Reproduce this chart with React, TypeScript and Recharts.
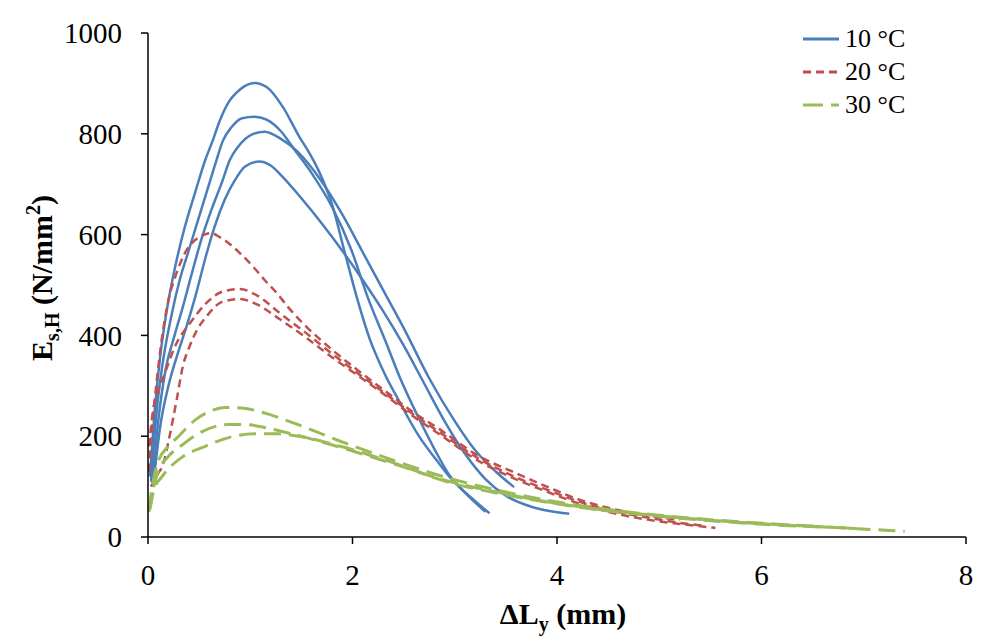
import { Line, LineChart, XAxis, YAxis } from "recharts";

const xTicks = [0, 2, 4, 6, 8];
const yTicks = [0, 200, 400, 600, 800, 1000];

// 10 °C specimens
const blue1: [number, number][] = [
  [0.02, 120], [0.07, 260], [0.12, 360], [0.18, 445], [0.27, 540], [0.36, 615], [0.46, 683],
  [0.56, 748], [0.63, 785], [0.7, 825], [0.78, 860], [0.9, 888], [1.04, 901], [1.16, 893],
  [1.32, 853], [1.48, 794], [1.56, 768], [1.68, 722], [1.8, 660], [1.92, 568], [2.05, 470],
  [2.17, 392], [2.3, 330], [2.46, 268], [2.65, 200], [2.85, 145], [2.95, 119], [3.15, 80], [3.34, 47],
];
const blue2: [number, number][] = [
  [0.03, 110], [0.08, 240], [0.14, 340], [0.23, 440], [0.31, 510], [0.39, 563], [0.49, 629],
  [0.59, 695], [0.67, 748], [0.73, 785], [0.82, 814], [0.92, 831], [1.04, 834], [1.16, 828],
  [1.3, 805], [1.42, 772], [1.6, 722], [1.8, 655], [1.99, 569], [2.15, 475], [2.33, 385],
  [2.46, 318], [2.65, 235], [2.8, 175], [2.95, 122], [3.1, 88], [3.3, 50],
];
const blue3: [number, number][] = [
  [0.04, 100], [0.1, 230], [0.17, 330], [0.26, 400], [0.34, 456], [0.43, 524], [0.52, 589],
  [0.62, 649], [0.72, 702], [0.8, 748], [0.88, 774], [1.01, 798], [1.14, 804], [1.3, 790],
  [1.46, 765], [1.7, 705], [1.9, 640], [2.1, 565], [2.3, 490], [2.5, 415], [2.75, 315],
  [3.0, 230], [3.2, 172], [3.4, 130], [3.58, 99],
];
const blue4: [number, number][] = [
  [0.05, 100], [0.12, 220], [0.2, 300], [0.3, 370], [0.38, 420], [0.46, 475], [0.57, 560],
  [0.65, 615], [0.75, 669], [0.85, 708], [0.95, 735], [1.09, 745], [1.2, 737], [1.3, 718],
  [1.5, 672], [1.7, 622], [1.9, 568], [2.1, 510], [2.3, 448], [2.5, 380], [2.7, 305],
  [2.9, 230], [3.1, 165], [3.3, 115], [3.5, 82], [3.75, 60], [4.0, 49], [4.12, 46],
];

// 20 °C specimens
const red1: [number, number][] = [
  [0.01, 130], [0.04, 220], [0.08, 300], [0.14, 400], [0.2, 470], [0.28, 524], [0.36, 563],
  [0.46, 589], [0.55, 600], [0.62, 603], [0.7, 595], [0.77, 586], [0.9, 563], [1.03, 536],
  [1.14, 510], [1.26, 484], [1.37, 456], [1.55, 417], [1.81, 370], [2.07, 328], [2.33, 288],
  [2.59, 248], [2.85, 214], [3.24, 160], [3.56, 130], [3.9, 100], [4.22, 74], [4.54, 56],
  [4.9, 42], [5.2, 34],
];
const red2: [number, number][] = [
  [0.01, 180], [0.05, 252], [0.1, 290], [0.15, 317], [0.28, 385], [0.41, 424], [0.57, 464],
  [0.73, 487], [0.9, 492], [1.06, 480], [1.29, 444], [1.55, 404], [1.81, 362], [2.07, 322],
  [2.33, 283], [2.59, 244], [2.85, 208], [3.24, 155], [3.56, 122], [3.9, 94], [4.22, 70],
  [4.54, 52], [4.9, 38], [5.2, 28], [5.45, 22],
];
const red3: [number, number][] = [
  [0.03, 100], [0.08, 120], [0.15, 146], [0.21, 199], [0.28, 272], [0.34, 338], [0.41, 380],
  [0.48, 411], [0.57, 437], [0.73, 467], [0.9, 472], [1.06, 462], [1.29, 432], [1.55, 395],
  [1.81, 355], [2.07, 318], [2.33, 280], [2.59, 240], [2.85, 204], [3.24, 150], [3.56, 118],
  [3.9, 90], [4.22, 66], [4.54, 48], [4.9, 34], [5.2, 26], [5.55, 18],
];

// 30 °C specimens
const green1: [number, number][] = [
  [0.01, 55], [0.05, 110], [0.1, 150], [0.2, 180], [0.3, 200], [0.46, 232], [0.59, 248],
  [0.75, 257], [0.92, 256], [1.14, 246], [1.4, 228], [1.88, 190], [2.36, 155], [2.85, 122],
  [3.44, 92], [3.93, 72], [4.41, 57], [4.9, 45], [5.39, 36], [5.88, 29], [6.2, 25], [6.6, 21],
];
const green2: [number, number][] = [
  [0.01, 50], [0.05, 95], [0.1, 130], [0.2, 160], [0.35, 185], [0.52, 208], [0.78, 223],
  [0.95, 223], [1.17, 216], [1.4, 205], [1.88, 178], [2.36, 148], [2.95, 110], [3.44, 88],
  [3.93, 69], [4.41, 55], [4.9, 44], [5.39, 35], [5.88, 28], [6.2, 24], [6.72, 19], [7.0, 16],
];
const green3: [number, number][] = [
  [0.02, 55], [0.06, 95], [0.13, 118], [0.33, 158], [0.56, 180], [0.82, 199], [1.04, 205],
  [1.27, 205], [1.44, 201], [1.88, 180], [2.36, 150], [2.95, 108], [3.44, 86], [3.93, 68],
  [4.41, 54], [4.9, 43], [5.39, 34], [5.88, 27], [6.2, 23], [6.72, 19], [6.98, 16], [7.25, 13],
  [7.4, 11],
];

const BLUE = "#4A7EBB";
const RED = "#C0504D";
const GREEN = "#9BBB59";
const FONT = '"Liberation Serif", "Times New Roman", serif';

const toPts = (arr: [number, number][]) => arr.map(([x, y]) => ({ x, y }));

const series = [
  { id: "b1", data: blue1, color: BLUE, dash: undefined, width: 2.5 },
  { id: "b2", data: blue2, color: BLUE, dash: undefined, width: 2.5 },
  { id: "b3", data: blue3, color: BLUE, dash: undefined, width: 2.5 },
  { id: "b4", data: blue4, color: BLUE, dash: undefined, width: 2.5 },
  { id: "r1", data: red1, color: RED, dash: "8 5", width: 2.5 },
  { id: "r2", data: red2, color: RED, dash: "8 5", width: 2.5 },
  { id: "r3", data: red3, color: RED, dash: "8 5", width: 2.5 },
  { id: "g1", data: green1, color: GREEN, dash: "17 8", width: 3 },
  { id: "g2", data: green2, color: GREEN, dash: "17 8", width: 3 },
  { id: "g3", data: green3, color: GREEN, dash: "17 8", width: 3 },
];

const legendItems = [
  { label: "10 °C", color: BLUE, dash: undefined },
  { label: "20 °C", color: RED, dash: "8 5" },
  { label: "30 °C", color: GREEN, dash: "20 8" },
];

function YTitle() {
  return (
    <text
      transform="translate(44,270) rotate(-90)"
      textAnchor="middle"
      fontFamily={FONT}
      fontWeight="bold"
      fontSize={30}
      fill="#000"
    >
      E
      <tspan dy={7} fontSize={20}>s,H</tspan>
      <tspan dy={-7}> (N/mm</tspan>
      <tspan dy={-12} fontSize={20}>2</tspan>
      <tspan dy={12}>)</tspan>
    </text>
  );
}

function XTitle() {
  return (
    <text x={555} y={616} textAnchor="middle" fontFamily={FONT} fontWeight="bold" fontSize={30} fill="#000">
      ΔL
      <tspan dy={7} fontSize={20}>y</tspan>
      <tspan dy={-7}> (mm)</tspan>
    </text>
  );
}

export default function App() {
  return (
    <div style={{ position: "relative", width: 983, height: 628 }}>
      <LineChart width={983} height={628} margin={{ top: 25, right: 25, left: 0, bottom: 0 }}>
        <XAxis
          dataKey="x"
          type="number"
          domain={[0, 8]}
          ticks={xTicks}
          allowDuplicatedCategory={false}
          height={99}
          stroke="#000"
          strokeWidth={1.5}
          tickSize={7}
          tickMargin={20}
          tick={{ fill: "#000", fontSize: 29, fontFamily: FONT }}
          label={<XTitle />}
        />
        <YAxis
          type="number"
          domain={[0, 1000]}
          ticks={yTicks}
          width={140}
          stroke="#000"
          strokeWidth={1.5}
          tickSize={7}
          tickMargin={19}
          tick={{ fill: "#000", fontSize: 29, fontFamily: FONT }}
          label={<YTitle />}
        />
        {series.map((s) => (
          <Line
            key={s.id}
            data={toPts(s.data)}
            dataKey="y"
            type="monotone"
            stroke={s.color}
            strokeWidth={s.width}
            strokeDasharray={s.dash}
            dot={false}
            activeDot={false}
            isAnimationActive={false}
          />
        ))}
      </LineChart>
      <div style={{ position: "absolute", left: 795, top: 14, fontFamily: FONT, fontSize: 26 }}>
        {legendItems.map((item) => (
          <div key={item.label} style={{ display: "flex", alignItems: "center", height: 33 }}>
            <svg width={38} height={10} style={{ marginRight: 4 }}>
              <line x1={0} y1={5} x2={36} y2={5} stroke={item.color} strokeWidth={3} strokeDasharray={item.dash} />
            </svg>
            <span>{item.label}</span>
          </div>
        ))}
      </div>
    </div>
  );
}
